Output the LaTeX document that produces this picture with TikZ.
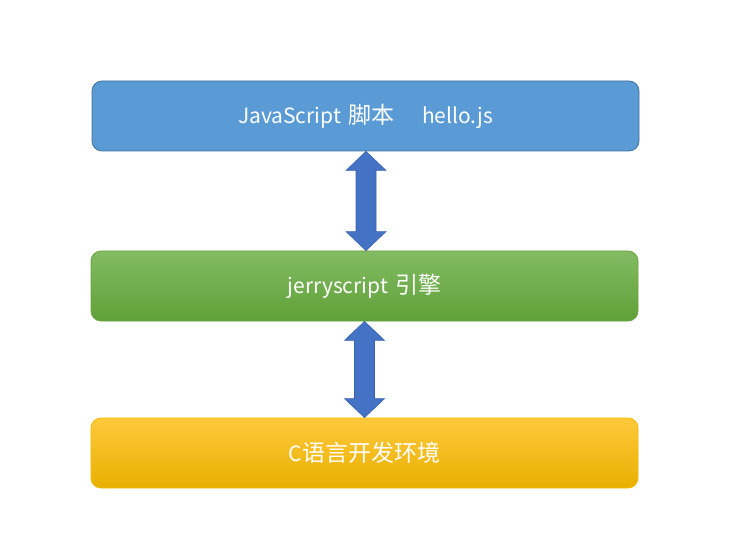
\documentclass[tikz,border=0pt]{standalone}
\usepackage{fontspec}
\setmainfont{Noto Sans CJK SC}
\usetikzlibrary{calc}
\newcommand\zhtxt[1]{{\fontsize{23pt}{24pt}\selectfont #1}}
\definecolor{bluefill}{HTML}{5B9BD5}
\definecolor{blueline}{HTML}{41719C}
\definecolor{greentop}{HTML}{83BB63}
\definecolor{greenmid}{HTML}{70AD47}
\definecolor{greenbot}{HTML}{60A038}
\definecolor{greenline}{HTML}{6AA443}
\definecolor{yeltop}{HTML}{FFC93C}
\definecolor{yelmid}{HTML}{FFC300}
\definecolor{yelbot}{HTML}{E8B000}
\definecolor{yelline}{HTML}{F2BA00}
\definecolor{arrowfill}{HTML}{4472C4}
\definecolor{arrowline}{HTML}{3A63AD}
\tikzset{
  layer/.style={rounded corners=10pt, minimum width=547pt, minimum height=70pt,
    inner sep=0pt, text=white, font=\fontsize{21pt}{24pt}\selectfont,
    text height=19pt, text depth=3pt, line width=0.8pt},
  bluebox/.style={layer, draw=blueline, fill=bluefill},
  greenbox/.style={layer, draw=greenline, top color=greentop, middle color=greenmid, bottom color=greenbot},
  yellowbox/.style={layer, draw=yelline, top color=yeltop, middle color=yelmid, bottom color=yelbot},
  blockarrow/.style={fill=arrowfill, draw=arrowline, line width=0.6pt, line join=miter}
}
\begin{document}
\begin{tikzpicture}[x=1pt,y=-1pt]
\useasboundingbox (0,0) rectangle (744,553);
\node[bluebox] (js) at (365.5,116) {JavaScript\hspace{7pt}\zhtxt{脚本}\hspace{28pt}hello.js};
\node[greenbox] (jerry) at (364.5,286) {jerryscript\hspace{7pt}\zhtxt{引擎}};
\node[yellowbox] (cenv) at (364.5,453) {C\zhtxt{语言开发环境}};
\path[blockarrow] let \p1=(js.south), \p2=(jerry.north) in
  (\x1+0.5pt,\y1) -- (\x1+20.5pt,\y1-19pt) -- (\x1+10.5pt,\y1-19pt) -- (\x1+10.5pt,\y2+19pt)
  -- (\x1+20.5pt,\y2+19pt) -- (\x1+0.5pt,\y2) -- (\x1-19.5pt,\y2+19pt) -- (\x1-9.5pt,\y2+19pt)
  -- (\x1-9.5pt,\y1-19pt) -- (\x1-19.5pt,\y1-19pt) -- cycle;
\path[blockarrow] let \p1=(jerry.south), \p2=(cenv.north) in
  (\x1,\y1) -- (\x1+20pt,\y1-19pt) -- (\x1+10pt,\y1-19pt) -- (\x1+10pt,\y2+19pt)
  -- (\x1+20pt,\y2+19pt) -- (\x1,\y2) -- (\x1-20pt,\y2+19pt) -- (\x1-10pt,\y2+19pt)
  -- (\x1-10pt,\y1-19pt) -- (\x1-20pt,\y1-19pt) -- cycle;
\end{tikzpicture}
\end{document}
